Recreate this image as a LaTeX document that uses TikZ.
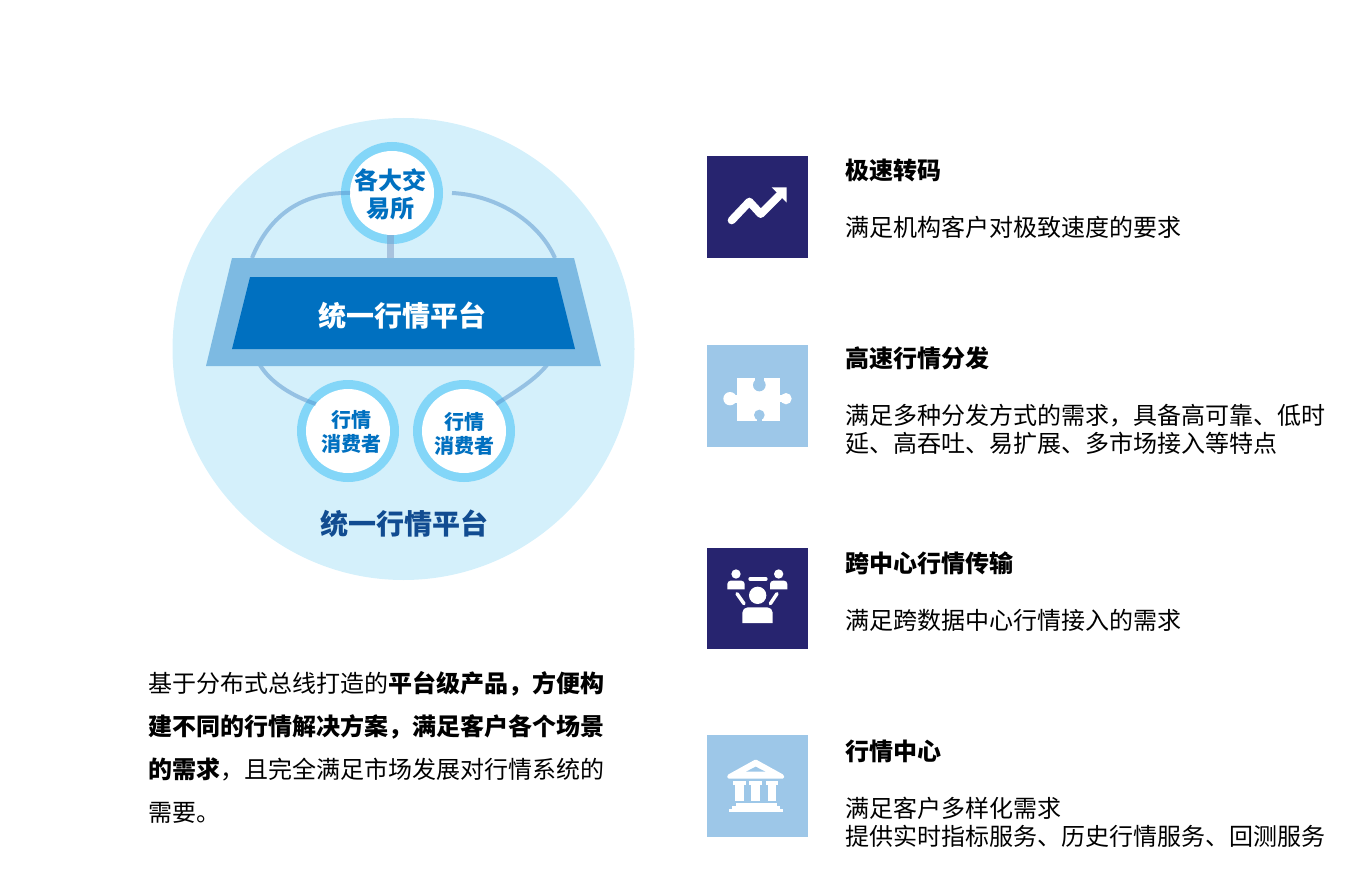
\documentclass[tikz,border=0pt]{standalone}
\usepackage{fontspec}
\setmainfont{Noto Sans CJK SC}
\usetikzlibrary{calc}
\definecolor{bgdisc}{HTML}{D4F0FB}
\definecolor{ringc}{HTML}{83D6F8}
\definecolor{arcc}{HTML}{5894CD}
\definecolor{stemc}{HTML}{7E98C3}
\definecolor{trapout}{HTML}{7DBAE2}
\definecolor{trapin}{HTML}{0070C0}
\definecolor{navy}{HTML}{27246F}
\definecolor{sky}{HTML}{9DC7E8}
\definecolor{titleblue}{HTML}{114C91}
\newcommand{\pxfont}[2]{\fontsize{#1}{#2}\selectfont}
\tikzset{
  ringdisc/.style={circle,fill=ringc,minimum size=76.5pt,inner sep=0pt,outer sep=0pt},
  whitedisc/.style={circle,fill=white,minimum size=63pt,inner sep=0pt,outer sep=0pt},
  arcline/.style={draw=arcc,line width=3pt,opacity=.5},
  stemline/.style={draw=stemc,line width=5.25pt,opacity=.5},
  circlabel/.style={text=trapin,font=\bfseries\pxfont{18}{21},align=center,inner sep=0pt},
  smalllabel/.style={text=trapin,font=\bfseries\pxfont{15}{18},align=center,inner sep=0pt},
  bigtitle/.style={font=\bfseries\pxfont{21}{25},inner sep=0pt},
  tile/.style={minimum width=75.75pt,minimum height=76.5pt,inner sep=0pt,outer sep=0pt,anchor=north west},
  itemhead/.style={anchor=west,inner sep=0pt,font=\bfseries\pxfont{18}{21}},
  itembody/.style={anchor=west,inner sep=0pt,align=left,font=\pxfont{18}{21}},
  iconstroke/.style={draw=white,line cap=round,line join=round},
}
\begin{document}
\begin{tikzpicture}[x=0.75pt,y=-0.75pt]
\useasboundingbox (0,0) rectangle (1348,888);
% main disc
\node[circle,fill=bgdisc,minimum size=346.5pt,inner sep=0pt] (disc) at (403.5,349) {};
% rings
\node[ringdisc] (exchring) at (392,193) {};
\node[whitedisc] (exchin) at (392,193) {};
\node[ringdisc] (consAring) at (348,431) {};
\node[whitedisc] (consAin) at (348,431) {};
\node[ringdisc] (consBring) at (464,431) {};
\node[whitedisc] (consBin) at (464,431) {};
\node[circlabel] (exchlabel) at (390.5,194.5) {各大交\\易所};
\node[smalllabel] (consAlabel) at (351,432) {行情\\消费者};
\node[smalllabel] (consBlabel) at (464.5,434) {行情\\消费者};
% platform
\coordinate (arcTL) at (252,258);
\coordinate (arcTR) at (555,258);
\coordinate (arcBL) at (260,365);
\coordinate (arcBR) at (547,365);
\coordinate (arcTRfree) at (452,193);
% connectors
\draw[arcline] (exchin.180) .. controls (303,192) and (270,214) .. (arcTL);
\draw[arcline] (arcTRfree) .. controls (495,195) and (538,220) .. (arcTR);
\draw[arcline] (arcBL) .. controls (270,382) and (292,396) .. (consAin.140);
\draw[arcline] (arcBR) .. controls (535,380) and (515,392) .. (consBin.40);
\draw[stemline] ($(exchin.south)+(-1.5,0)$) -- (390.5,258);
\fill[trapout] (232,258) -- (574,258) -- (601,366) -- (206,366) -- cycle;
\fill[trapin] (250,277) -- (557,277) -- (575,349) -- (232,349) -- cycle;
\node[bigtitle,text=white] (platlabel) at (402,316) {统一行情平台};
\node[bigtitle,text=titleblue] (disctitle) at (404,524) {统一行情平台};
% paragraph
\node[anchor=north west,inner sep=0pt,align=left,font=\pxfont{18}{32.25}] (para) at (148,671.5)
 {基于分布式总线打造的\textbf{平台级产品，方便构}\\
  \textbf{建不同的行情解决方案，满足客户各个场景}\\
  \textbf{的需求}，且完全满足市场发展对行情系统的\\
  需要。};
% tiles
\node[tile,fill=navy] (tileA) at (707,156) {};
\node[tile,fill=sky] (tileB) at (707,345) {};
\node[tile,fill=navy,minimum height=75.75pt] (tileC) at (707,548) {};
\node[tile,fill=sky] (tileD) at (707,735) {};
% texts
\node[itemhead] (headA) at (845,170) {极速转码};
\node[itembody] (bodyA) at (845,227) {满足机构客户对极致速度的要求};
\node[itemhead] (headB) at (845,358) {高速行情分发};
\node[itembody] (bodyB) at (845,429) {满足多种分发方式的需求，具备高可靠、低时\\延、高吞吐、易扩展、多市场接入等特点};
\node[itemhead] (headC) at (845,563) {跨中心行情传输};
\node[itembody] (bodyC) at (845,620) {满足跨数据中心行情接入的需求};
\node[itemhead] (headD) at (845,751) {行情中心};
\node[itembody] (bodyD) at (845,822) {满足客户多样化需求\\提供实时指标服务、历史行情服务、回测服务};
% icon A: rising arrow
\begin{scope}[shift={(700,150)},x=0.25pt,y=-0.25pt]
\draw[iconstroke,line width=6pt] (95,211) -- (148,155) -- (182,192) -- (236,138);
\fill[white] (215,112) -- (260,112) -- (260,158) -- cycle;
\end{scope}
% icon B: puzzle piece
\begin{scope}[shift={(700,150)},x=0.25pt,y=-0.25pt]
\fill[white] (112,685) rectangle (240,812);
\fill[white] (90,746) circle[radius=20];
\fill[white] (100,734) rectangle (114,758);
\fill[white] (258,746) circle[radius=17];
\fill[white] (238,736) rectangle (250,756);
\fill[sky] (178,705) circle[radius=19];
\fill[sky] (164,683) rectangle (192,700);
\fill[sky] (178,795) circle[radius=16];
\fill[sky] (170,800) rectangle (186,814);
\end{scope}
% icon C: people
\begin{scope}[shift={(700,540)},x=0.25pt,y=-0.25pt]
\fill[white] (108,102) circle[radius=14];
\fill[white] (236,102) circle[radius=14];
\fill[white] (82,148) [rounded corners=2.5pt] -- (82,122) -- (134,122) [sharp corners] -- (134,148) -- cycle;
\fill[white] (210,148) [rounded corners=2.5pt] -- (210,122) -- (262,122) [sharp corners] -- (262,148) -- cycle;
\draw[iconstroke,line width=2.5pt] (150,117) -- (198,117);
\fill[white] (173,166) circle[radius=26];
\fill[white] (127,249) [rounded corners=4pt] -- (127,202) -- (218,202) [sharp corners] -- (218,249) -- cycle;
\draw[iconstroke,line width=2.6pt] (111,161) -- (132,191);
\draw[iconstroke,line width=2.6pt] (231,161) -- (211,191);
\end{scope}
% icon D: bank
\begin{scope}[shift={(700,540)},x=0.25pt,y=-0.25pt]
\fill[white,rounded corners=1pt] (167,658) -- (252,705) -- (252,716) -- (82,716) -- (82,705) -- cycle;
\fill[sky] (138,695) -- (167,680) -- (196,695) -- cycle;
\fill[white] (100,724) rectangle (137,736);
\fill[white] (148,724) rectangle (185,736);
\fill[white] (197,724) rectangle (234,736);
\fill[white] (106,736) rectangle (131,782);
\fill[white] (154,736) rectangle (180,782);
\fill[white] (203,736) rectangle (228,782);
\fill[white] (107,788) rectangle (230,798);
\fill[white] (97,798) rectangle (240,806);
\fill[white] (87,806) rectangle (248,816);
\end{scope}
\end{tikzpicture}
\end{document}
